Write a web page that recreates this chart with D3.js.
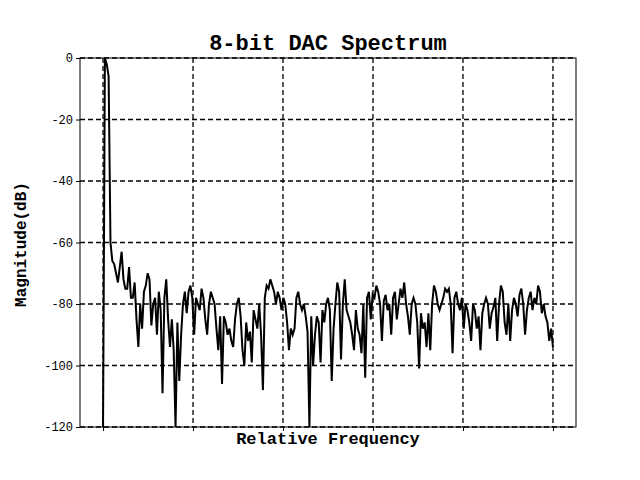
<!DOCTYPE html><html><head><meta charset="utf-8"><script src="https://cdn.jsdelivr.net/npm/d3@7"></script>
<style>body{margin:0;background:#fff}</style></head><body><svg id="c" width="640" height="480"></svg>
<script>
const title="8-bit DAC Spectrum", xLabel="Relative Frequency", yLabel="Magnitude(dB)";
const yTicks=[0,-20,-40,-60,-80,-100,-120];
const xTicks=[0,0.1,0.2,0.3,0.4,0.5];
const magnitude=[-120,0,-2,-6,-60,-66,-67,-70,-73,-68,-63,-72,-75,-75,-68,-78,-78,-73,-85,-94,-80,-88,-76,-74,-70,-72,-87,-80,-78,-90,-76,-82,-109,-78,-72,-85,-94,-85,-95,-120,-86,-105,-90,-80,-76,-83,-76,-74,-78,-90,-78,-80,-82,-75,-78,-85,-90,-80,-76,-78,-80,-88,-95,-84,-106,-84,-86,-90,-88,-92,-94,-85,-80,-78,-84,-95,-100,-86,-92,-89,-99,-82,-85,-88,-80,-90,-108,-78,-74,-75,-72,-74,-76,-80,-76,-78,-82,-78,-80,-86,-95,-88,-90,-88,-78,-76,-80,-82,-80,-84,-89,-120,-84,-100,-90,-84,-86,-99,-82,-86,-80,-78,-82,-105,-88,-80,-73,-76,-98,-80,-72,-82,-84,-86,-90,-95,-82,-88,-90,-96,-80,-104,-78,-76,-85,-77,-78,-74,-76,-80,-92,-79,-77,-82,-80,-90,-78,-76,-85,-80,-75,-78,-73,-80,-84,-90,-80,-78,-80,-86,-101,-83,-88,-86,-94,-83,-95,-80,-74,-76,-80,-82,-80,-78,-75,-76,-75,-80,-96,-78,-76,-80,-82,-78,-88,-80,-82,-86,-92,-80,-82,-88,-84,-95,-83,-80,-78,-80,-88,-83,-81,-78,-92,-80,-74,-76,-86,-90,-80,-92,-82,-78,-80,-84,-77,-75,-80,-90,-82,-78,-76,-82,-78,-80,-74,-76,-83,-80,-84,-86,-92,-88,-94];
const svg=d3.select("#c");
const L=80,R=576,T=58,B=427;
const x=d3.scaleLinear().domain([-0.0256,0.5256]).range([L,R]);
const y=d3.scaleLinear().domain([-120,0]).range([B,T]);
const n=magnitude.length;
const font="'Liberation Mono','DejaVu Sans Mono',monospace";
const g=svg.append("g");
g.selectAll(".gx").data(xTicks).join("line").attr("x1",d=>x(d)).attr("x2",d=>x(d)).attr("y1",T).attr("y2",B).attr("stroke","#000").attr("stroke-width",1.3).attr("stroke-dasharray","5,3");
g.selectAll(".gy").data(yTicks).join("line").attr("x1",L).attr("x2",R).attr("y1",d=>y(d)).attr("y2",d=>y(d)).attr("stroke","#000").attr("stroke-width",1.3).attr("stroke-dasharray","5,3");
const line=d3.line().x((d,i)=>x(i*0.5/(n-1))).y(d=>y(d));
svg.append("defs").append("clipPath").attr("id","cp").append("rect").attr("x",L).attr("y",T-2).attr("width",R-L).attr("height",B-T+2);
svg.append("path").datum(magnitude).attr("d",line).attr("fill","none").attr("stroke","#000").attr("stroke-width",2).attr("clip-path","url(#cp)");
svg.append("rect").attr("x",L).attr("y",T).attr("width",R-L).attr("height",B-T).attr("fill","none").attr("stroke","#000");
const ya=svg.append("g").attr("transform",`translate(${L},0)`).call(d3.axisLeft(y).tickValues(yTicks).tickSize(4).tickFormat(d=>d===0?"0":d3.format("")(d).replace("−","-")));
ya.select(".domain").remove();
ya.selectAll("text").attr("font-family",font).attr("font-size",12).attr("fill","#000");
const xa=svg.append("g").attr("transform",`translate(0,${B})`).call(d3.axisBottom(x).tickValues(xTicks).tickSize(4).tickFormat(""));
xa.select(".domain").remove();
svg.append("text").attr("x",(L+R)/2).attr("y",50).attr("text-anchor","middle").attr("font-family",font).attr("font-weight","bold").attr("font-size",22).text(title);
svg.append("text").attr("x",(L+R)/2).attr("y",444).attr("text-anchor","middle").attr("font-family",font).attr("font-weight","bold").attr("font-size",17).text(xLabel);
svg.append("text").attr("transform",`translate(26,${(T+B)/2+2}) rotate(-90)`).attr("text-anchor","middle").attr("font-family",font).attr("font-weight","bold").attr("font-size",16).text(yLabel);
</script></body></html>
